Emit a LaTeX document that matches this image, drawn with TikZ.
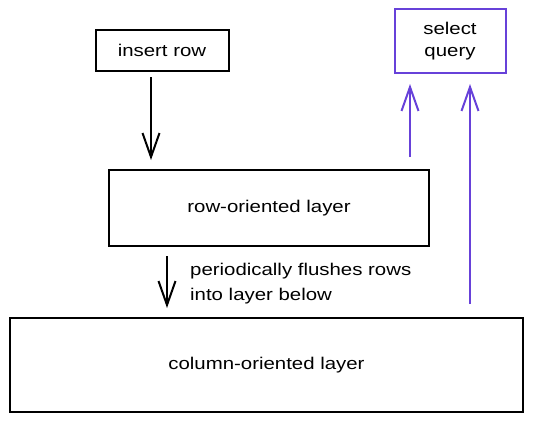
\documentclass[tikz,border=0pt]{standalone}
\usepackage{fontspec}
\setmainfont{Liberation Sans}[FakeStretch=1.2]
\usetikzlibrary{arrows.meta}
\definecolor{violetx}{HTML}{6741D9}
\tikzset{
  box/.style={draw=black, line width=2pt, minimum width=#1, inner sep=0pt, align=center, font=\fontsize{17}{22}\selectfont},
  vbox/.style={box=#1, draw=violetx},
  arr/.style={line width=2pt, -{Straight Barb[length=24pt, width=17pt, line width=2pt]}},
  varr/.style={arr, draw=violetx},
}
\begin{document}
\begin{tikzpicture}[x=1pt, y=-1pt]
\useasboundingbox (0,0) rectangle (533,423);
\node[box=133pt, minimum height=41pt] (ins) at (162,50) {insert row};
\node[vbox=111pt, minimum height=64pt] (sel) at (450,41) {select\\query};
\node[box=320pt, minimum height=76pt] (row) at (269,208) {row-oriented layer};
\node[box=513pt, minimum height=94pt] (col) at (266.5,365) {column-oriented layer};
\coordinate (a1s) at (151,77); \coordinate (a1e) at (151,160);
\draw[arr] (a1s) -- (a1e);
\coordinate (a2s) at (167,256); \coordinate (a2e) at (167,308);
\draw[arr] (a2s) -- (a2e);
\coordinate (p1s) at (410,157); \coordinate (p1e) at (410,84);
\draw[varr] (p1s) -- (p1e);
\coordinate (p2s) at (470,304); \coordinate (p2e) at (470,84);
\draw[varr] (p2s) -- (p2e);
\node[anchor=west, align=left, inner sep=0pt, font=\fontsize{17}{25}\selectfont] (lab) at (190,284) {periodically flushes rows\\into layer below};
\end{tikzpicture}
\end{document}
